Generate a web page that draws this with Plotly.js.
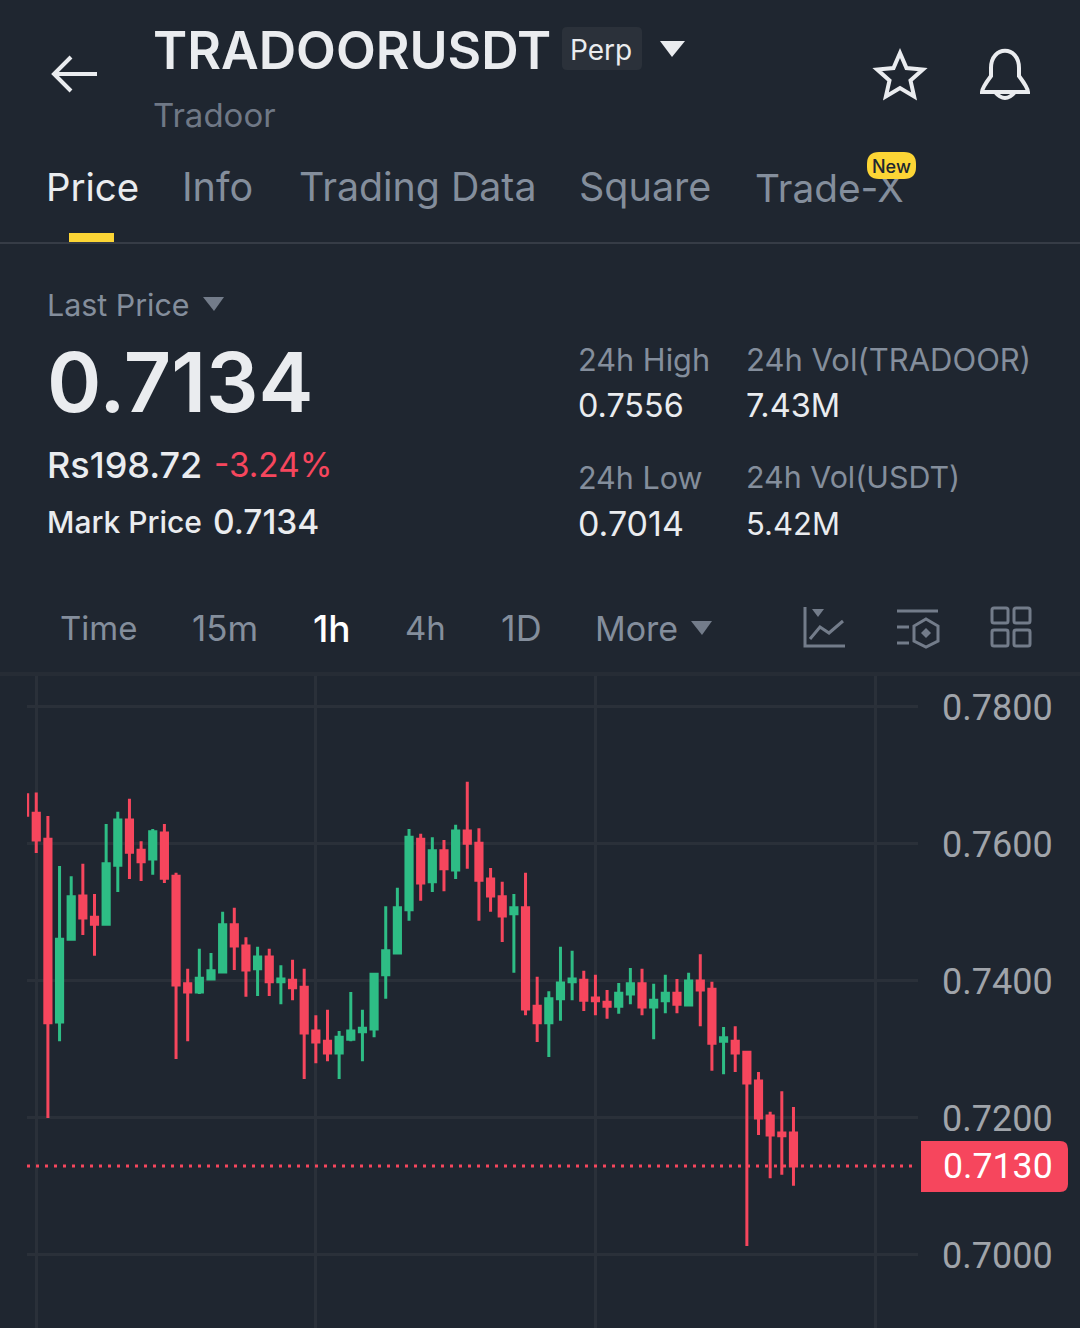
<!DOCTYPE html>
<html>
<head>
<meta charset="utf-8">
<script src="https://cdn.plot.ly/plotly-3.0.1.min.js"></script>
<style>html,body{margin:0;padding:0;background:#1f2630;overflow:hidden}#c{width:1080px;height:1328px}</style>
</head>
<body>
<div id="c"></div>
<script>
const opens  = [.7672,.7645,.7607,.7340,.7461,.7524,.7493,.7483,.7569,.7635,.7591,.7578,.7616,.7553,.7396,.7384,.7403,.7413,.7482,.7451,.7418,.7435,.7399,.7401,.7391,.7327,.7312,.7295,.7315,.7326,.7330,.7409,.7441,.7504,.7607,.7545,.7590,.7562,.7619,.7601,.7549,.7523,.7498,.7507,.7363,.7339,.7374,.7399,.7401,.7375,.7369,.7363,.7381,.7396,.7362,.7371,.7382,.7365,.7400,.7388,.7312,.7312,.7296,.7254,.7203,.7178,.7178];
const highs  = [.7672,.7675,.7641,.7568,.7553,.7571,.7527,.7629,.7647,.7666,.7604,.7622,.7629,.7558,.7418,.7447,.7441,.7501,.7507,.7464,.7450,.7447,.7423,.7431,.7418,.7350,.7358,.7327,.7384,.7358,.7410,.7509,.7536,.7622,.7615,.7610,.7606,.7628,.7691,.7623,.7565,.7545,.7527,.7558,.7406,.7385,.7450,.7444,.7415,.7409,.7387,.7397,.7419,.7418,.7396,.7409,.7403,.7412,.7439,.7399,.7333,.7334,.7296,.7267,.7209,.7239,.7216];
const lows   = [.7642,.7587,.7200,.7312,.7460,.7467,.7437,.7483,.7530,.7549,.7546,.7555,.7543,.7286,.7312,.7381,.7403,.7412,.7416,.7377,.7378,.7378,.7366,.7372,.7257,.7280,.7283,.7257,.7312,.7283,.7318,.7374,.7439,.7488,.7517,.7530,.7531,.7549,.7564,.7488,.7501,.7457,.7412,.7350,.7311,.7289,.7342,.7372,.7356,.7350,.7345,.7352,.7366,.7350,.7315,.7353,.7353,.7365,.7334,.7269,.7264,.7267,.7013,.7175,.7112,.7117,.7101];
const closes = [.7642,.7606,.7339,.7461,.7523,.7492,.7483,.7571,.7635,.7588,.7574,.7618,.7550,.7394,.7384,.7404,.7415,.7482,.7451,.7416,.7435,.7399,.7403,.7390,.7324,.7311,.7295,.7318,.7327,.7331,.7410,.7444,.7507,.7610,.7543,.7590,.7564,.7619,.7601,.7547,.7524,.7495,.7507,.7359,.7339,.7374,.7397,.7403,.7372,.7371,.7363,.7382,.7396,.7362,.7372,.7382,.7366,.7400,.7387,.7309,.7317,.7295,.7251,.7200,.7175,.7174,.7130];
const candleIndex = opens.map((_, i) => i);
const priceTicks = [0.70, 0.72, 0.74, 0.76, 0.78];
const priceTickLabels = ['0.7000', '0.7200', '0.7400', '0.7600', '0.7800'];
const timeTicks = [1, 25, 49, 73];
const lastPrice = 0.7130;
const lastPriceLabel = '0.7130';

const BG='#1f2630', GRID='#2a3039', RED='#f6465d', GREEN='#2ebd85', WHITE='#eaecef', GREY='#848e9c', ICON='#737c8a', YEL='#fcd535';
const FONT='Inter, sans-serif';
const L=27, R=918, T=675, B=1328;
const xp=x=>(x-L)/(R-L), yp=y=>(B-y)/(B-T);
const path=s=>s.replace(/(-?[\d.]+),(-?[\d.]+)/g,(m,a,b)=>xp(+a).toFixed(5)+','+yp(+b).toFixed(5));

const annotations=[], shapes=[];
function T2(text,x,y,size,color,weight,family){
  annotations.push({text,x:xp(x-1),y:yp(y),xref:'paper',yref:'paper',xanchor:'left',yanchor:'middle',showarrow:false,borderpad:0,borderwidth:0,
    font:{size,color,weight:weight||400,family:family||FONT}});
}
function S(d,opt){
  opt=opt||{};
  shapes.push({type:'path',path:path(d),xref:'paper',yref:'paper',layer:'above',fillcolor:opt.fill||'rgba(0,0,0,0)',line:{color:opt.stroke||'rgba(0,0,0,0)',width:opt.stroke?(opt.w||3):0}});
}
function RR(x0,y0,x1,y1,r){return `M${x0+r},${y0} L${x1-r},${y0} Q${x1},${y0} ${x1},${y0+r} L${x1},${y1-r} Q${x1},${y1} ${x1-r},${y1} L${x0+r},${y1} Q${x0},${y1} ${x0},${y1-r} L${x0},${y0+r} Q${x0},${y0} ${x0+r},${y0} Z`;}

// header
S('M97,74 L54,74 M71,57 L54,74 L71,91',{stroke:WHITE,w:4});
T2('TRADOORUSDT',154,50,51.8,WHITE,600);
S(RR(562,27,642,70,5),{fill:'#2b313a'});
T2('Perp',571,50,28,WHITE);
S('M660,41 L685,41 L672,57 Z',{fill:WHITE});
T2('Tradoor',154,115,33,'#6f7886');
let star='';for(let i=0;i<10;i++){const r=i%2?11:24,a=-Math.PI/2+i*Math.PI/5;star+=(i?'L':'M')+(900+r*Math.cos(a)).toFixed(1)+','+(77+r*Math.sin(a)).toFixed(1)+' ';}
S(star+'Z',{stroke:WHITE,w:4});
S('M982,92 Q982,88 991,76 L991,68 C991,45 1019,45 1019,68 L1019,76 Q1028,88 1028,92 Z M995,92 Q1005,104 1015,92',{stroke:WHITE,w:4});
// tabs
T2('Price',47,186.5,38.4,WHITE);
T2('Info',183,186.5,39.5,GREY);
T2('Trading Data',300,186.5,39.3,GREY);
T2('Square',580,186.5,39.5,GREY);
shapes.push({type:'rect',xref:'paper',yref:'paper',x0:xp(752),x1:xp(906),y0:yp(164.5),y1:yp(208.5),layer:'above',line:{width:0},fillcolor:'rgba(0,0,0,0)',
  label:{text:'Trade-X',font:{size:38.8,color:GREY,family:FONT},textposition:'middle left',padding:0}});
S(RR(867,152,916,179,12),{fill:YEL});
T2('New',873,166,18,'#202630',500);
S('M69,233 L114,233 L114,242 L69,242 Z',{fill:YEL});
S('M0,243 L1080,243',{stroke:'#363c46',w:2});
// stats
T2('Last Price',48,305,30.4,GREY);
S('M203,297 L224,297 L214,311 Z',{fill:ICON});
T2('0.7134',48,382,82.5,WHITE,600);
T2('Rs198.72',48,465,36,WHITE,500);
T2('-3.24%',215,465,33.3,RED);
T2('Mark Price',48,522,30,WHITE,500);
T2('0.7134',214,522,33.5,WHITE,500);
T2('24h High',579,359,30.7,GREY);
T2('0.7556',579,405.5,32.3,WHITE);
T2('24h Vol(TRADOOR)',747,359,31,GREY);
T2('7.43M',747,405.5,32.5,WHITE);
T2('24h Low',579,477,30.5,GREY);
T2('0.7014',579,523.5,34,WHITE);
T2('24h Vol(USDT)',747,477,30.4,GREY);
T2('5.42M',747,523.5,31,WHITE);
// interval row
T2('Time',61,628,33,GREY);
T2('15m',193,628,35,GREY);
T2('1h',314,628,37,'#ffffff',500);
T2('4h',406,628,33,GREY);
T2('1D',502,628,36,GREY);
T2('More',596,628,34,GREY);
S('M691,621 L712,621 L702,635 Z',{fill:ICON});
S('M805,607 L805,646 L845,646',{stroke:ICON});
S('M810,639 L820,627 L829,633 L843,621',{stroke:ICON});
S('M812,609 L824,609 L818,617 Z',{fill:ICON});
S('M897,611 L938,611 M897,627 L909,627 M897,643 L909,643',{stroke:ICON});
S('M926,619 L938,626 L938,641 L926,647 L914,641 L914,626 Z',{stroke:ICON});
S('M926,628 L931,633 L926,638 L921,633 Z',{fill:ICON});
S(RR(992,608,1008,623,2),{stroke:ICON});
S(RR(1014,608,1030,623,2),{stroke:ICON});
S(RR(992,630,1008,646,2),{stroke:ICON});
S(RR(1014,630,1030,646,2),{stroke:ICON});
S('M0,674 L1080,674',{stroke:'#262c35',w:4});
// last price line and tag
shapes.push({type:'line',xref:'paper',yref:'y',x0:0,x1:xp(913),y0:lastPrice,y1:lastPrice,layer:'above',line:{color:RED,width:3,dash:'3px,6px'}});
S('M921,1141 L1060,1141 Q1068,1141 1068,1149 L1068,1184 Q1068,1192 1060,1192 L921,1192 Z',{fill:RED});
annotations.push({text:lastPriceLabel,x:xp(942),y:lastPrice,xref:'paper',yref:'y',xanchor:'left',yanchor:'middle',showarrow:false,borderpad:0,font:{size:35.7,color:'#ffffff',family:'Roboto'}});

const data=[{
  type:'candlestick',x:candleIndex,open:opens,high:highs,low:lows,close:closes,
  increasing:{line:{color:GREEN,width:3},fillcolor:GREEN},
  decreasing:{line:{color:RED,width:3},fillcolor:RED},
  whiskerwidth:0,hoverinfo:'skip',showlegend:false
}];
const layout={
  width:1080,height:1328,paper_bgcolor:BG,plot_bgcolor:BG,showlegend:false,boxgap:0.47,boxgroupgap:0,
  margin:{l:L,r:1080-R,t:T,b:0,pad:0},
  xaxis:{type:'linear',range:[0.206,76.69],tickmode:'array',tickvals:timeTicks,showticklabels:false,ticks:'',showgrid:true,gridcolor:GRID,gridwidth:3,zeroline:false,showline:false,rangeslider:{visible:false},fixedrange:true},
  yaxis:{side:'right',range:[0.68934,0.78467],tickmode:'array',tickvals:priceTicks,ticktext:priceTickLabels,ticks:'',ticklabelstandoff:23,showgrid:true,gridcolor:GRID,gridwidth:3,zeroline:false,showline:false,tickfont:{family:'Roboto',size:36,color:'#a0a4aa'},fixedrange:true},
  annotations,shapes
};
Plotly.newPlot('c',data,layout,{staticPlot:true,displayModeBar:false});
</script>
</body>
</html>
